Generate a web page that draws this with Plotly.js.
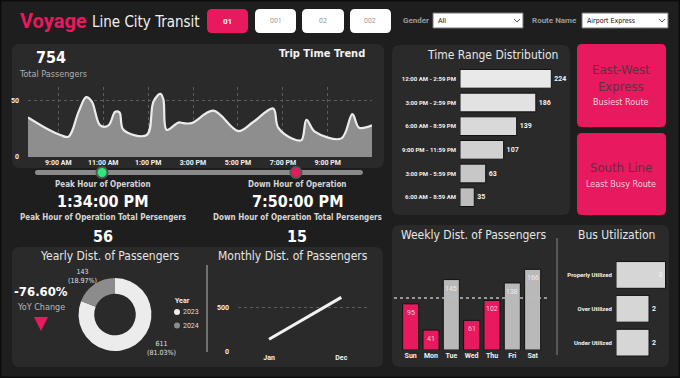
<!DOCTYPE html>
<html><head><meta charset="utf-8">
<script src="https://cdn.plot.ly/plotly-3.0.1.min.js"></script>
<style>html,body{margin:0;padding:0;background:#1e1e1e;}#chart{width:680px;height:378px;}</style>
</head><body><div id="chart"></div>
<script>
// ---------- data ----------
const tripHours = [7.652, 8.496, 9.089, 9.459, 9.904, 10.244, 10.496, 10.867, 11.237, 11.533, 11.726, 11.904, 12.941, 13.237, 13.55, 13.68, 13.83, 14.348, 14.57, 14.941, 15.904, 17.015, 17.681, 18.57, 18.793, 19.459, 19.83, 20.052, 20.422, 21.607, 22.096, 22.393, 22.97];
const tripPassengers = [35, 25, 19.5, 18, 40, 53, 49, 28, 28, 40, 39.5, 24, 19.5, 49, 56, 51, 24, 30.5, 30, 30, 41, 23, 31, 43, 26, 16, 15, 33, 22.5, 16.5, 38, 26, 28];
const tripTickVals = [9, 11, 13, 15, 17, 19, 21];
const tripTickText = ['9:00 AM', '11:00 AM', '1:00 PM', '3:00 PM', '5:00 PM', '7:00 PM', '9:00 PM'];

const rangeLabels = ['12:00 AM - 2:59 PM', '3:00 PM - 2:59 PM', '6:00 AM - 8:59 PM', '9:00 PM - 11:59 PM', '3:00 PM - 5:59 PM', '6:00 AM - 8:59 AM'];
const rangeValues = [224, 186, 139, 107, 63, 35];

const years = ['2023', '2024'];
const yearValues = [611, 143];

const months = ['Jan', 'Dec'];
const monthValues = [143, 611];

const days = ['Sun', 'Mon', 'Tue', 'Wed', 'Thu', 'Fri', 'Sat'];
const dayValues = [95, 41, 145, 61, 102, 138, 166];

const utilLabels = ['Properly Utilized', 'Over Utilized', 'Under Utilized'];
const utilValues = [3, 2, 2];

const peakHour = '1:34:00 PM', peakPassengers = 56;
const downHour = '7:50:00 PM', downPassengers = 15;
const busiestRoute = 'East-West<br>Express', leastBusyRoute = 'South Line';

// ---------- helpers ----------
const W = 680, H = 378;
const px = x => x / W, py = y => 1 - y / H;
const PINK = '#e8195f';
const PANEL = '#2a2a2a';
const NARROW = 'Liberation Sans Narrow, DejaVu Sans Condensed, Arial Narrow, sans-serif';
const TITLE = 'Liberation Sans Narrow, DejaVu Sans Condensed, sans-serif';
const KF = 'DejaVu Sans Condensed, sans-serif';

function rr(x0, y0, x1, y1, r, fill, line, lw) {
  const P = (x, y) => px(x).toFixed(5) + ',' + py(y).toFixed(5);
  const path = 'M' + P(x0 + r, y0) + ' L' + P(x1 - r, y0) + ' Q' + P(x1, y0) + ' ' + P(x1, y0 + r) +
    ' L' + P(x1, y1 - r) + ' Q' + P(x1, y1) + ' ' + P(x1 - r, y1) +
    ' L' + P(x0 + r, y1) + ' Q' + P(x0, y1) + ' ' + P(x0, y1 - r) +
    ' L' + P(x0, y0 + r) + ' Q' + P(x0, y0) + ' ' + P(x0 + r, y0) + ' Z';
  return {type: 'path', xref: 'paper', yref: 'paper', path, fillcolor: fill,
    line: {color: line || fill, width: lw || 0}, layer: 'below'};
}
function ann(x, y, text, size, color, opts) {
  return Object.assign({xref: 'paper', yref: 'paper', x: px(x), y: py(y), text,
    showarrow: false, xanchor: 'center', yanchor: 'middle',
    font: {size, color, family: 'Roboto, sans-serif'}}, opts || {});
}
function circ(cx, cy, r, fill, line, lw) {
  return {type: 'circle', xref: 'paper', yref: 'paper', x0: px(cx - r), x1: px(cx + r),
    y0: py(cy + r), y1: py(cy - r), fillcolor: fill, line: {color: line || fill, width: lw || 0}};
}

const shapes = [];
const annotations = [];

// panels
shapes.push(rr(12, 44, 384, 168, 8, PANEL));
shapes.push(rr(392, 45, 570, 215, 8, PANEL));
shapes.push(rr(577, 44, 666, 127, 5, PINK));
shapes.push(rr(577, 133, 666, 215, 5, PINK));
shapes.push(rr(12, 247, 383, 367, 8, PANEL));
shapes.push(rr(392, 225, 669, 367, 8, PANEL));
// dividers
shapes.push({type: 'line', xref: 'paper', yref: 'paper', x0: px(207), x1: px(207), y0: py(265), y1: py(352), line: {color: '#8a8a8a', width: 1.5}});
shapes.push({type: 'line', xref: 'paper', yref: 'paper', x0: px(557), x1: px(557), y0: py(238), y1: py(355), line: {color: '#6a6a6a', width: 1.5}});

// header
annotations.push(ann(18, 21, '<b>Voyage</b>', 20, PINK, {xanchor: 'left', font: {size: 20, color: PINK, family: 'Roboto, sans-serif'}}));
annotations.push(ann(90, 22, 'Line City Transit', 15, '#f0f0f0', {xanchor: 'left', font: {size: 15, color: '#f0f0f0', family: NARROW}}));
const btns = [['01', 207, 248, true], ['001', 255, 296, false], ['02', 302, 344, false], ['002', 350, 391, false]];
btns.forEach(b => {
  shapes.push(Object.assign(rr(b[1], 9, b[2], 33, 5, b[3] ? PINK : '#ffffff'), {layer: 'above'}));
  annotations.push(ann((b[1] + b[2]) / 2, 21, b[3] ? '<b>' + b[0] + '</b>' : b[0], b[3] ? 8 : 7, b[3] ? '#ffffff' : '#9a9a9a'));
});
annotations.push(ann(401, 20, '<b>Gender</b>', 8, '#9a9a9a', {xanchor: 'left'}));
shapes.push({type: 'rect', xref: 'paper', yref: 'paper', x0: px(433), x1: px(523), y0: py(28), y1: py(13), fillcolor: '#ffffff', line: {color: '#777', width: 1}});
annotations.push(ann(436, 21, 'All', 7, '#111', {xanchor: 'left'}));
annotations.push(ann(530, 20, '<b>Route Name</b>', 8, '#9a9a9a', {xanchor: 'left'}));
shapes.push({type: 'rect', xref: 'paper', yref: 'paper', x0: px(582), x1: px(668), y0: py(28), y1: py(13), fillcolor: '#ffffff', line: {color: '#777', width: 1}});
annotations.push(ann(585, 21, 'Airport Express', 7, '#111', {xanchor: 'left', font: {size: 7, color: '#111', family: NARROW}}));
[[517, 19], [662, 19]].forEach(c => {
  shapes.push({type: 'path', xref: 'paper', yref: 'paper',
    path: 'M' + px(c[0] - 3) + ',' + py(c[1]) + ' L' + px(c[0]) + ',' + py(c[1] + 3) + ' L' + px(c[0] + 3) + ',' + py(c[1]),
    line: {color: '#555', width: 1}});
});

// trip panel texts
const totalPassengers = yearValues.reduce((a, b) => a + b, 0);
annotations.push(ann(51, 57, '<b>' + totalPassengers + '</b>', 16, '#ffffff', {font: {size: 16, color: '#fff', family: KF}}));
annotations.push(ann(17, 74, 'Total Passengers', 9, '#b0b0b0', {xanchor: 'left', font: {size: 9, color: '#b0b0b0', family: NARROW}}));
annotations.push(ann(367, 54, '<b>Trip Time Trend</b>', 12, '#f2f2f2', {xanchor: 'right', font: {size: 11, color: '#f2f2f2', family: KF}}));

// slider
shapes.push(rr(35, 170, 363, 175, 2.5, '#8a8a8a'));
shapes.push(circ(102, 172.5, 5.5, '#2ee87a', '#555', 2));
shapes.push(circ(296, 172.5, 5.5, PINK, '#555', 2));

// peak / down texts
[[103, 'Peak', peakHour, peakPassengers], [297, 'Down', downHour, downPassengers]].forEach(t => {
  annotations.push(ann(t[0], 184, '<b>' + t[1] + ' Hour of Operation</b>', 8, '#d6d6d6', {font: {size: 8, color: '#d6d6d6', family: KF}}));
  annotations.push(ann(t[0], 201, '<b>' + t[2] + '</b>', 16, '#ffffff', {font: {size: 16, color: '#fff', family: KF}}));
  annotations.push(ann(t[0], 217.5, '<b>' + t[1] + ' Hour of Operation Total Persengers</b>', 8, '#d6d6d6', {font: {size: 8, color: '#d6d6d6', family: KF}}));
  annotations.push(ann(t[0], 236, '<b>' + t[3] + '</b>', 16, '#ffffff', {font: {size: 16, color: '#fff', family: KF}}));
});

// time range title
annotations.push(ann(492, 55, 'Time Range Distribution', 12, '#e6e6e6', {font: {size: 12, color: '#e6e6e6', family: TITLE}}));

// route cards
annotations.push(ann(621, 78, busiestRoute, 13, '#62303f', {font: {size: 13, color: '#62303f', family: TITLE}}));
annotations.push(ann(621, 102, 'Busiest Route', 9, '#f7d2de', {font: {size: 9, color: '#f7d2de', family: NARROW}}));
annotations.push(ann(621, 167, leastBusyRoute, 13, '#62303f', {font: {size: 13, color: '#62303f', family: TITLE}}));
annotations.push(ann(621, 184, 'Least Busy Route', 9, '#f7d2de', {font: {size: 9, color: '#f7d2de', family: NARROW}}));

// yearly
annotations.push(ann(110, 256, 'Yearly Dist. of Passengers', 12, '#e6e6e6', {font: {size: 12, color: '#e6e6e6', family: TITLE}}));
annotations.push(ann(293, 256, 'Monthly Dist. of Passengers', 12, '#e6e6e6', {font: {size: 12, color: '#e6e6e6', family: TITLE}}));
const yoy = (yearValues[1] - yearValues[0]) / yearValues[0] * 100;
annotations.push(ann(41, 291, '<b>' + yoy.toFixed(2) + '%</b>', 13, '#ffffff', {font: {size: 13, color: '#fff', family: KF}}));
annotations.push(ann(41, 307, 'YoY Change', 9, '#b8b8b8', {font: {size: 9, color: '#b8b8b8', family: NARROW}}));
shapes.push({type: 'path', xref: 'paper', yref: 'paper',
  path: 'M' + px(34) + ',' + py(317) + ' L' + px(48) + ',' + py(317) + ' L' + px(41) + ',' + py(331) + ' Z',
  fillcolor: PINK, line: {width: 0}});
const pct = yearValues.map(v => (v / totalPassengers * 100).toFixed(2));
annotations.push(ann(82, 276, yearValues[1] + '<br>(' + pct[1] + '%)', 7, '#e0e0e0', {font: {size: 7, color: '#e0e0e0', family: NARROW}}));
annotations.push(ann(161, 348, yearValues[0] + '<br>(' + pct[0] + '%)', 7, '#e0e0e0', {font: {size: 7, color: '#e0e0e0', family: NARROW}}));
const pieColors = ['#ececec', '#8c8c8c'];
annotations.push(ann(173, 301, '<b>Year</b>', 7, '#eeeeee', {xanchor: 'left'}));
years.forEach((y, i) => {
  shapes.push(circ(177, 312 + i * 13.5, 3, pieColors[i]));
  annotations.push(ann(181, 312 + i * 13.5, y, 7, '#dddddd', {xanchor: 'left'}));
});

// weekly + bus titles
annotations.push(ann(473, 235, 'Weekly Dist. of Passengers', 12, '#e6e6e6', {font: {size: 12, color: '#e6e6e6', family: TITLE}}));
annotations.push(ann(616, 235, 'Bus Utilization', 12, '#e6e6e6', {font: {size: 12, color: '#e6e6e6', family: TITLE}}));

// weekly average line and bar labels
const avg = dayValues.reduce((a, b) => a + b, 0) / dayValues.length;
shapes.push({type: 'line', xref: 'paper', yref: 'y4', x0: px(394), x1: px(549), y0: avg, y1: avg,
  line: {color: '#bdbdbd', width: 1.5, dash: 'dot'}, layer: 'above'});
days.forEach((d, i) => {
  annotations.push({xref: 'x4', yref: 'y4', x: d, y: dayValues[i], text: String(dayValues[i]),
    showarrow: false, yanchor: 'top', yshift: -3,
    font: {size: 7, color: dayValues[i] < avg ? '#f7d0dc' : '#ebebeb', family: 'Roboto, sans-serif'}});
});

// border
shapes.push({type: 'rect', xref: 'paper', yref: 'paper', x0: 0, x1: 1, y0: 0, y1: 1, line: {color: '#0c0c0c', width: 3}, layer: 'above'});

// ---------- traces ----------
const tickF = {size: 7, color: '#f2f2f2', family: 'Roboto, sans-serif', weight: 'bold'};
const catF = {size: 6, color: '#f2f2f2', family: 'Roboto, sans-serif', weight: 'bold'};
const traces = [
  {type: 'scatter', x: tripHours, y: tripPassengers, mode: 'lines', fill: 'tozeroy',
   fillcolor: '#8e8e8e', line: {color: '#ececec', width: 2.2, shape: 'spline', smoothing: 1.0},
   xaxis: 'x', yaxis: 'y', hoverinfo: 'skip'},
  {type: 'bar', orientation: 'h', y: rangeLabels, x: rangeValues, xaxis: 'x2', yaxis: 'y2',
   marker: {color: ['#e9e9e9', '#e2e2e2', '#d9d9d9', '#d1d1d1', '#c7c7c7', '#bdbdbd'], line: {color: '#111', width: 1}},
   text: rangeValues.map(String), textposition: 'outside', cliponaxis: false,
   textfont: {size: 7, color: '#f2f2f2', family: 'Roboto, sans-serif', weight: 'bold'}},
  {type: 'scatter', x: months, y: monthValues, mode: 'lines', line: {color: '#f2f2f2', width: 3},
   xaxis: 'x3', yaxis: 'y3'},
  {type: 'bar', x: days, y: dayValues, xaxis: 'x4', yaxis: 'y4',
   marker: {color: dayValues.map(v => v < avg ? PINK : '#b9b9b9'), line: {color: '#111', width: 1}}},
  {type: 'bar', orientation: 'h', y: utilLabels, x: utilValues, xaxis: 'x5', yaxis: 'y5',
   marker: {color: '#d6d6d6', line: {color: '#111', width: 1}},
   text: utilValues.map(String), cliponaxis: false, textangle: 0,
   textposition: utilValues.map(v => v === Math.max(...utilValues) ? 'inside' : 'outside'),
   insidetextanchor: 'end',
   textfont: {size: 7, color: utilValues.map(v => v === Math.max(...utilValues) ? '#eeeeee' : '#f2f2f2'), family: 'Roboto, sans-serif', weight: 'bold'}},
  {type: 'pie', labels: years, values: yearValues, hole: 0.57, sort: false, direction: 'clockwise',
   marker: {colors: pieColors, line: {width: 0}}, textinfo: 'none', showlegend: false,
   domain: {x: [px(78), px(152)], y: [py(351), py(278)]}}
];

const grid = {showgrid: true, gridcolor: '#5c5c5c', griddash: 'dot', gridwidth: 1};
const layout = {
  width: W, height: H, margin: {l: 0, r: 0, t: 0, b: 0},
  paper_bgcolor: '#1e1e1e', plot_bgcolor: 'rgba(0,0,0,0)', showlegend: false,
  font: {family: 'Roboto, sans-serif', color: '#eee'},
  xaxis: Object.assign({anchor: 'y', domain: [px(28), px(372)], range: [7.652, 22.97], tickvals: tripTickVals, ticktext: tripTickText,
    tickfont: tickF, zeroline: false, showline: false, ticks: '', ticklabelstandoff: 0}, grid),
  yaxis: Object.assign({anchor: 'x', domain: [py(157), py(87)], range: [0, 62], tickvals: [0, 50], tickfont: tickF,
    zeroline: false, ticks: '', ticklabelstandoff: 8}, grid),
  xaxis2: {anchor: 'y2', domain: [px(460), px(566)], range: [0, 260], visible: false},
  yaxis2: {anchor: 'x2', domain: [py(209), py(67)], autorange: 'reversed', showgrid: false, zeroline: false, ticks: '',
    ticklabelstandoff: 3, tickfont: catF},
  xaxis3: {anchor: 'y3', domain: [px(238), px(368)], range: [-0.43, 1.37], showgrid: false, zeroline: false, ticks: '',
    tickfont: tickF, ticklabelstandoff: 0},
  yaxis3: Object.assign({anchor: 'x3', domain: [py(352), py(285)], range: [0, 750], tickvals: [0, 500], tickfont: tickF,
    zeroline: false, ticks: '', ticklabelstandoff: 8}, grid),
  xaxis4: {anchor: 'y4', domain: [px(400.5), px(542.8)], showgrid: false, zeroline: false, ticks: '', tickfont: tickF, ticklabelstandoff: 0},
  yaxis4: {anchor: 'x4', domain: [py(350), py(265)], range: [0, 175], visible: false},
  bargap: 0.21,
  xaxis5: {anchor: 'y5', domain: [px(616), px(668)], range: [0, 3.15], visible: false},
  yaxis5: {anchor: 'x5', domain: [py(359.6), py(258)], autorange: 'reversed', showgrid: false, zeroline: false, ticks: '',
    ticklabelstandoff: 3, tickfont: catF},
  shapes, annotations
};
Plotly.newPlot('chart', traces, layout, {displayModeBar: false, staticPlot: true});
</script></body></html>
